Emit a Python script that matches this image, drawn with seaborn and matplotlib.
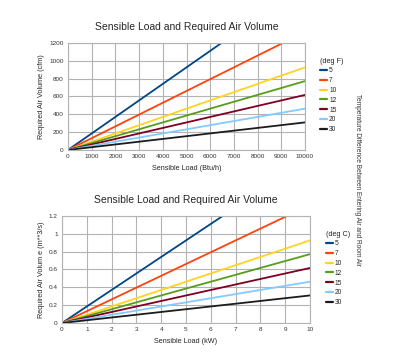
import pandas as pd
import seaborn as sns
import matplotlib.pyplot as plt

# temperature differences (legend entries)
delta_t = ["5", "7", "10", "12", "15", "20", "30"]
colors = ["#004586", "#ff420e", "#ffd320", "#579d1c", "#7e0021", "#83caff", "#1c1c1c"]

# straight lines from the origin, value read at the right edge of each chart
load_btu = [0, 10000]
cfm_end = [1852, 1323, 926, 772, 617, 463, 309]

load_kw = [0, 10]
m3s_end = [1.852, 1.323, 0.926, 0.772, 0.617, 0.463, 0.309]

sns.set_style("whitegrid")
plt.rcParams["font.family"] = ["Liberation Sans", "DejaVu Sans"]

def make_df(xs, ends):
    rows = []
    for dt, e in zip(delta_t, ends):
        rows.append({"x": xs[0], "y": 0, "dT": dt})
        rows.append({"x": xs[1], "y": e, "dT": dt})
    return pd.DataFrame(rows)

fig = plt.figure(figsize=(4, 3.52), dpi=100)
ax1 = fig.add_axes([0.17, 0.574, 0.5925, 0.304])
ax2 = fig.add_axes([0.155, 0.0824, 0.62, 0.304])

grid_c = "#b3b3b3"

def style(ax, df, xlim, ylim, xticks, yticks, xlabel, ylabel, leg_title):
    sns.lineplot(data=df, x="x", y="y", hue="dT", palette=colors, ax=ax,
                 linewidth=1.3, legend=True)
    ax.set_xlim(*xlim)
    ax.set_ylim(*ylim)
    ax.set_xticks(xticks)
    ax.set_yticks(yticks)
    ax.grid(True, color=grid_c, linewidth=0.8)
    for s in ax.spines.values():
        s.set_color(grid_c)
        s.set_linewidth(0.8)
    ax.tick_params(labelsize=4.6, length=0, pad=3, colors="#333333")
    ax.set_xlabel(xlabel, fontsize=5.2, labelpad=4)
    ax.set_ylabel(ylabel, fontsize=5.2, labelpad=3)
    ax.set_title("Sensible Load and Required Air Volume", fontsize=7.5, pad=9)
    leg = ax.legend(loc="upper left", bbox_to_anchor=(1.04, 0.92), frameon=False,
                    title=leg_title, fontsize=4.8, title_fontsize=5.2,
                    handlelength=1.0, handletextpad=0.3, labelspacing=0.42,
                    alignment="left")
    for h in leg.get_lines():
        h.set_linewidth(1.6)

style(ax1, make_df(load_btu, cfm_end), (0, 10000), (0, 1200),
      range(0, 10001, 1000), range(0, 1201, 200),
      "Sensible Load (Btu/h)", "Required Air Volume (cfm)", "(deg F)")
style(ax2, make_df(load_kw, m3s_end), (0, 10), (0, 1.2),
      range(0, 11), [0, 0.2, 0.4, 0.6, 0.8, 1, 1.2],
      "Sensible Load (kW)", "Required Air Volum e (m**3/s)", "(deg C)")
ax2.set_yticklabels(["0", "0.2", "0.4", "0.6", "0.8", "1", "1.2"])

fig.text(0.893, 0.49, "Temperature Difference Between Entering Air and Room Air",
         rotation=-90, fontsize=4.7, ha="center", va="center", color="#333333")

fig.savefig("out.png", dpi=100)
